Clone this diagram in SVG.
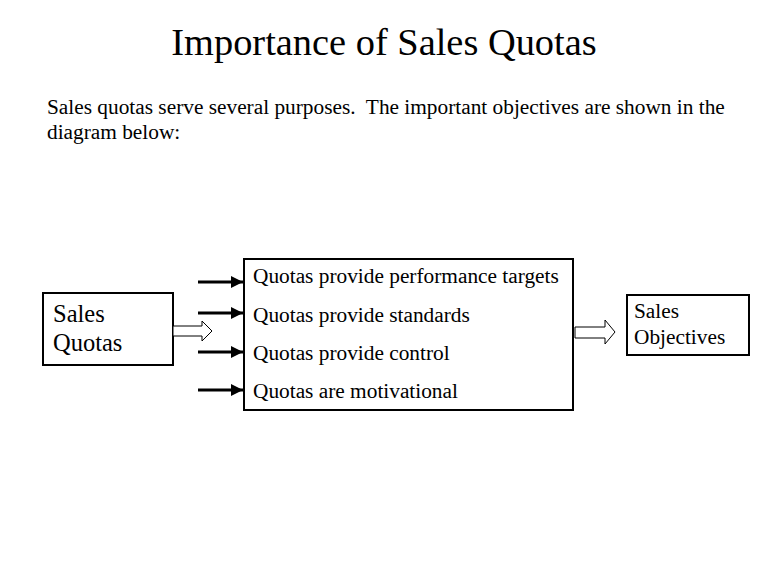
<svg xmlns="http://www.w3.org/2000/svg" width="768" height="576" viewBox="0 0 768 576">
<style>
text{font-family:"Liberation Serif","Times New Roman",serif;fill:#000;white-space:pre}
.box{fill:#fff;stroke:#000;stroke-width:2}
.hollow{fill:#fff;stroke:#000;stroke-width:1}
.arr{stroke:#000;stroke-width:3;fill:none}
</style>
<defs>
<marker id="ah" markerWidth="4" markerHeight="4" refX="4" refY="2" orient="auto" markerUnits="strokeWidth">
<path d="M0,0 L4,2 L0,4 Z" fill="#000"/>
</marker>
</defs>
<rect width="768" height="576" fill="#fff"/>
<text x="384" y="55" font-size="38.4" text-anchor="middle">Importance of Sales Quotas</text>
<text x="47" y="114" font-size="21.33" xml:space="preserve">Sales quotas serve several purposes.  The important objectives are shown in the</text>
<text x="47" y="139" font-size="21.33">diagram below:</text>
<g id="sales-quotas">
<rect class="box" x="43" y="293" width="130" height="72"/>
<text x="53" y="322" font-size="24.5">Sales</text>
<text x="53" y="351" font-size="24.5">Quotas</text>
</g>
<g id="quotas-box">
<rect class="box" x="244" y="259" width="329" height="151"/>
<text x="253" y="283" font-size="21.33">Quotas provide performance targets</text>
<text x="253" y="322" font-size="21.33">Quotas provide standards</text>
<text x="253" y="360" font-size="21.33">Quotas provide control</text>
<text x="253" y="398" font-size="21.33">Quotas are motivational</text>
</g>
<g id="sales-objectives">
<rect class="box" x="627" y="295" width="122" height="60"/>
<text x="634" y="318" font-size="21.33">Sales</text>
<text x="634" y="344" font-size="21.33">Objectives</text>
</g>
<g id="connectors">
<path class="hollow" d="M173,326 H202 V321 L212,331 L202,341 V336 H173 Z"/>
<path class="hollow" d="M575,327 H605 V320 L615,332 L605,344 V338 H575 Z"/>
<line class="arr" x1="198" y1="282" x2="243" y2="282" marker-end="url(#ah)"/>
<line class="arr" x1="198" y1="313" x2="243" y2="313" marker-end="url(#ah)"/>
<line class="arr" x1="198" y1="352" x2="243" y2="352" marker-end="url(#ah)"/>
<line class="arr" x1="198" y1="390" x2="243" y2="390" marker-end="url(#ah)"/>
</g>
</svg>
